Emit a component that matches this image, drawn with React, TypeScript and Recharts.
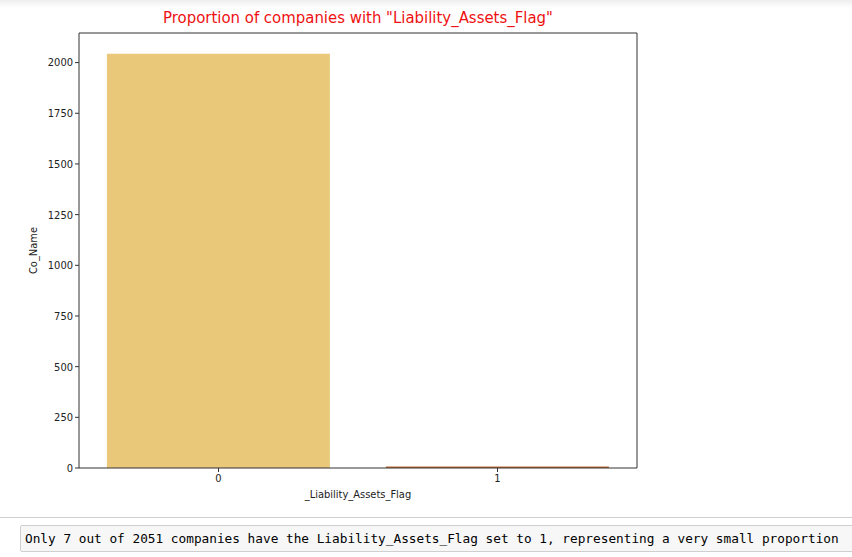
import React from 'react';
import { BarChart, Bar, XAxis, YAxis, Cell } from 'recharts';

const categories = ['0', '1'];
const counts = [2044, 7];
const barColors = ['#EAC87A', '#C4692F'];
const yTicks = [0, 250, 500, 750, 1000, 1250, 1500, 1750, 2000];

const data = categories.map((c, i) => ({ flag: c, count: counts[i] }));

const FONT = '"DejaVu Sans Condensed", "Liberation Sans Narrow", "DejaVu Sans", sans-serif';
const AXIS = '#333333';

export default function App() {
  return (
    <div style={{ position: 'absolute', left: 0, top: 0, width: 852, height: 557, background: '#fff', overflow: 'hidden' }}>
      <div style={{ position: 'absolute', left: 0, top: 0, width: 852, height: 8, background: 'linear-gradient(#eeeeee, #ffffff)' }} />
      <div
        style={{
          position: 'absolute', left: 79, width: 558, top: 7, textAlign: 'center',
          color: '#ee1111', fontFamily: FONT, fontSize: 16.6, lineHeight: '22px', whiteSpace: 'nowrap',
        }}
      >
        Proportion of companies with "Liability_Assets_Flag"
      </div>
      <div style={{ position: 'absolute', left: 0, top: 0 }}>
        <BarChart width={852} height={510} data={data} margin={{ top: 32, right: 214, left: 0, bottom: 0 }} barCategoryGap="10%">
          <XAxis
            dataKey="flag"
            height={42}
            stroke={AXIS}
            tickLine={{ stroke: AXIS }}
            tickSize={4}
            tick={{ fill: '#222', fontSize: 11, fontFamily: FONT }}
            label={{
              content: (p: any) => {
                const vb = p.viewBox || {};
                return (
                  <text x={vb.x + vb.width / 2} y={vb.y + 30} textAnchor="middle" fill="#222" fontSize={11} fontFamily={FONT}>
                    _Liability_Assets_Flag
                  </text>
                );
              },
            }}
          />
          <XAxis xAxisId="top" dataKey="flag" orientation="top" height={1} tick={false} tickLine={false} stroke={AXIS} />
          <YAxis
            width={79}
            domain={[0, 2146]}
            ticks={yTicks}
            stroke={AXIS}
            tickSize={4}
            tick={{ fill: '#222', fontSize: 11, fontFamily: FONT }}
            interval={0}
            label={{
              content: (p: any) => {
                const vb = p.viewBox || {};
                const cx = vb.x + 37;
                const cy = vb.y + vb.height / 2;
                return (
                  <text x={cx} y={cy} textAnchor="middle" transform={`rotate(-90 ${cx} ${cy})`} fill="#222" fontSize={11} fontFamily={FONT}>
                    Co_Name
                  </text>
                );
              },
            }}
          />
          <YAxis yAxisId="right" orientation="right" width={1} domain={[0, 2146]} tick={false} tickLine={false} stroke={AXIS} />
          <Bar dataKey="count" isAnimationActive={false}>
            {data.map((d, i) => (
              <Cell key={d.flag} fill={barColors[i]} />
            ))}
          </Bar>
        </BarChart>
      </div>
      <div style={{ position: 'absolute', left: 0, top: 517, width: 852, height: 1, background: '#cfcfcf' }} />
      <div
        style={{
          position: 'absolute', left: 20, top: 525, width: 840, height: 27, boxSizing: 'border-box',
          background: '#f7f7f7', border: '1px solid #cfcfcf', borderRadius: 2,
          fontFamily: '"DejaVu Sans Mono", "Liberation Mono", monospace', fontSize: 12.75, lineHeight: '25px',
          paddingLeft: 4, whiteSpace: 'nowrap', color: '#000',
        }}
      >
        Only 7 out of 2051 companies have the Liability_Assets_Flag set to 1, representing a very small proportion
      </div>
    </div>
  );
}
